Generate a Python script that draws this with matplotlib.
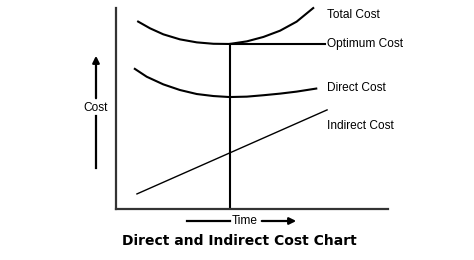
import matplotlib
matplotlib.use("Agg")
import matplotlib.pyplot as plt

# Data (arbitrary units: time 0-100, cost 0-100)
total_x = [7.8, 12.5, 17.4, 23.5, 29.7, 35.8, 41.7, 48.1, 54.2, 60.3, 66.4, 72.8]
total_y = [93.5, 89.9, 86.9, 84.4, 82.9, 82.2, 82.1, 83.4, 85.6, 88.7, 93.2, 100.3]
direct_x = [6.6, 11.3, 17.4, 23.5, 29.7, 35.8, 41.7, 48.1, 54.2, 60.3, 66.4, 74.0]
direct_y = [70.0, 65.8, 62.0, 59.2, 57.2, 56.2, 55.7, 55.9, 56.6, 57.4, 58.4, 60.0]
indirect_x = [7.7, 77.6]
indirect_y = [7.5, 49.3]
optimum_x = 41.9
optimum_y = 82.1
optimum_end_x = 76.8
labels = ["Total Cost", "Optimum Cost", "Direct Cost", "Indirect Cost"]
label_y = [96.5, 82.1, 60.2, 41.3]
title = "Direct and Indirect Cost Chart"

fig = plt.figure(figsize=(4.74, 2.60), dpi=100)
ax = fig.add_axes([116/474, 1-209/260, 272/474, 201/260])
ax.set_xlim(0, 100)
ax.set_ylim(0, 100)
for s in ["top", "right"]:
    ax.spines[s].set_visible(False)
for s in ["left", "bottom"]:
    ax.spines[s].set_linewidth(1.6)
    ax.spines[s].set_color("#333333")
ax.set_xticks([])
ax.set_yticks([])

ax.plot(total_x, total_y, color="black", lw=1.5, clip_on=False, solid_capstyle="butt")
ax.plot(direct_x, direct_y, color="black", lw=1.5, clip_on=False, solid_capstyle="butt")
ax.plot(indirect_x, indirect_y, color="black", lw=1.0, clip_on=False)
ax.plot([optimum_x, optimum_x], [0, optimum_y], color="black", lw=1.5)
ax.plot([optimum_x, optimum_end_x], [optimum_y, optimum_y], color="black", lw=1.5, clip_on=False)

font = dict(family=["Liberation Sans", "DejaVu Sans"], fontsize=8.6)
for lab, y in zip(labels, label_y):
    ax.text(77.5, y, lab, ha="left", va="center", transform=ax.transData, **font)

# Cost label with arrow
fx = lambda px: px / 474
fy = lambda py: 1 - py / 260
fig.text(fx(96), fy(108), "Cost", ha="center", va="center", **font)
fig.add_artist(matplotlib.patches.FancyArrowPatch((fx(96), fy(101)), (fx(96), fy(53)),
               transform=fig.transFigure, arrowstyle="-|>,head_length=4,head_width=2",
               lw=1.6, color="black", mutation_scale=1))
fig.add_artist(matplotlib.lines.Line2D([fx(96), fx(96)], [fy(116), fy(168)],
               transform=fig.transFigure, lw=1.6, color="black"))

# Time label with arrow
fig.text(fx(244.5), fy(221), "Time", ha="center", va="center", **font)
fig.add_artist(matplotlib.lines.Line2D([fx(187), fx(230)], [fy(221), fy(221)],
               transform=fig.transFigure, lw=1.6, color="black"))
fig.add_artist(matplotlib.patches.FancyArrowPatch((fx(259), fy(221)), (fx(299), fy(221)),
               transform=fig.transFigure, arrowstyle="-|>,head_length=4,head_width=2",
               lw=1.6, color="black", mutation_scale=1))

fig.text(fx(239.5), fy(241), title, ha="center", va="center",
         family=["DejaVu Sans"], fontweight="bold", fontsize=10)

fig.savefig("out.png", dpi=100)
